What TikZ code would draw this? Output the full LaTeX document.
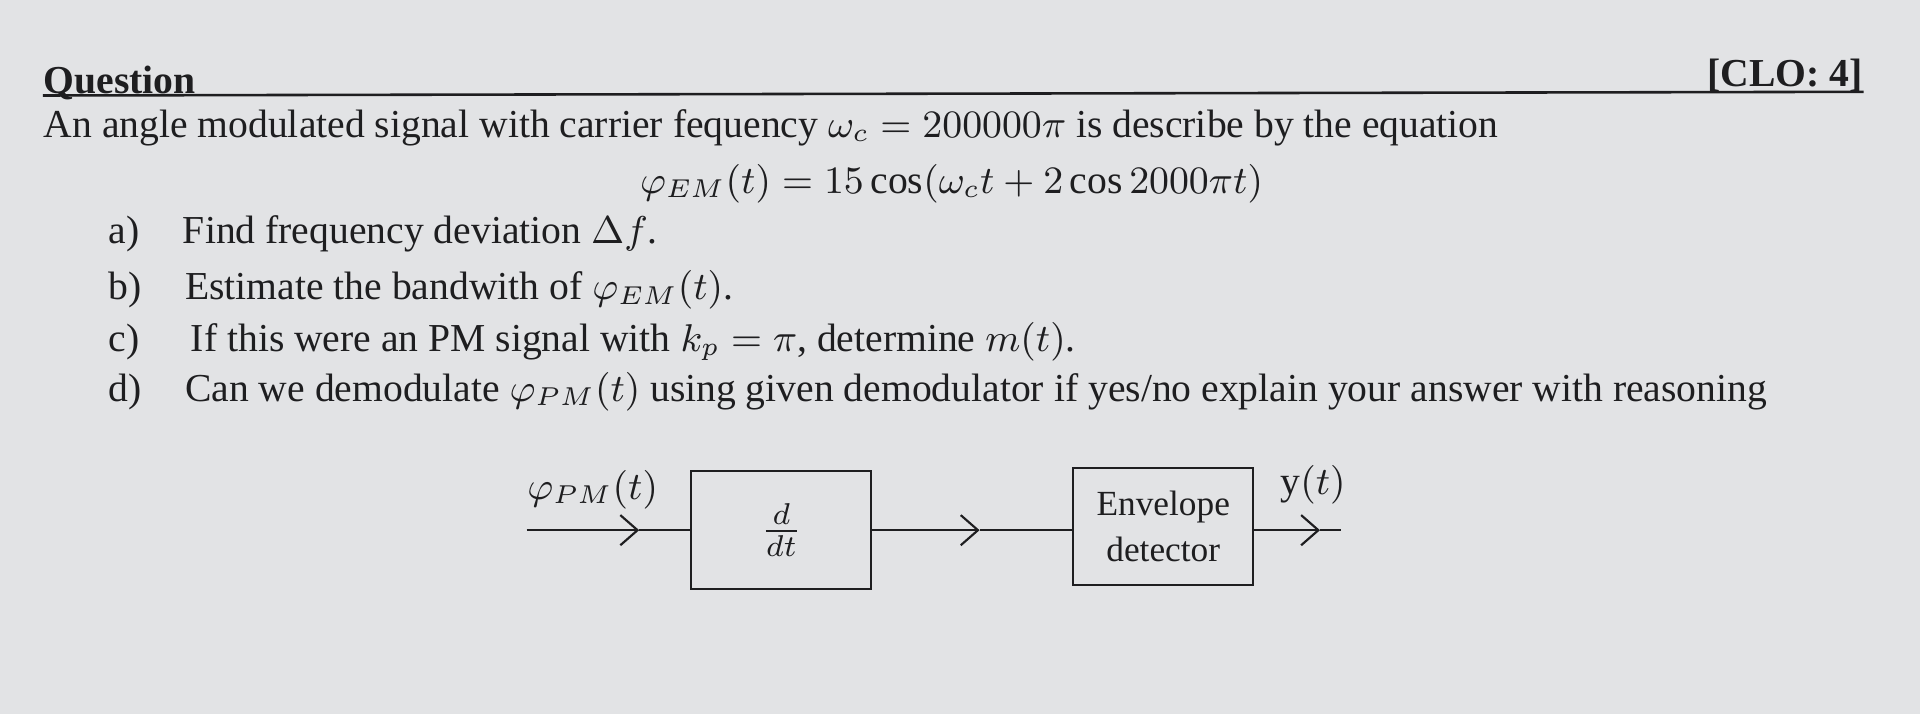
\documentclass[tikz,border=0pt]{standalone}
\usepackage{amsmath}
\usepackage{fontspec}
\setmainfont{Liberation Serif}
\usetikzlibrary{arrows.meta,calc}
\definecolor{bg}{RGB}{226,227,229}
\definecolor{ink}{RGB}{30,30,32}
\begin{document}
\begin{tikzpicture}[x=0.01cm,y=0.01cm,
  txt/.style={anchor=west,inner sep=0,text=ink,font=\fontsize{9.2}{11}\selectfont},
  blk/.style={draw=ink,line width=0.5pt,minimum width=1.47cm,minimum height=0.96cm,inner sep=0,text=ink},
  sig/.style={draw=ink,line width=0.5pt},
  midarrow/.style={draw=ink,line width=0.5pt,-{Straight Barb[length=4pt,width=7pt]}}]
\fill[bg] (0,0) rectangle (1568,-583);
\useasboundingbox (0,0) rectangle (1568,-583);
\node[txt,font=\fontsize{9.2}{11}\selectfont\bfseries] (q) at (35,-68) {Question};
\node[txt,anchor=east,font=\fontsize{9.2}{11}\selectfont\bfseries] (clo) at (1522,-62) {[CLO: 4]};
\coordinate (ul1) at (35,-78); \coordinate (ul2) at (1522,-75);
\draw[ink,line width=0.6pt] (ul1) -- (ul2);
\node[txt] (l1) at (35,-104) {An angle modulated signal with carrier fequency $\omega_c = 200000\pi$ is describe\ by the equation};
\node[txt] (eq) at (522,-150) {$\varphi_{EM}(t) = 15\cos(\omega_c t + 2\cos 2000\pi t)$};
\node[txt] (a) at (88,-191) {a)\hspace{1.1em}Find frequency deviation $\Delta f$.};
\node[txt] (b) at (88,-237) {b)\hspace{1.1em}Estimate the bandwith of $\varphi_{EM}(t)$.};
\node[txt] (c) at (88,-279) {c)\hspace{1.3em}If this were an PM signal with $k_p=\pi$, determine $m(t)$.};
\node[txt] (d) at (88,-320) {d)\hspace{1.1em}Can we demodulate $\varphi_{PM}(t)$ using given demodulator if yes/no explain your answer with reasoning};
\node[blk] (b1) at (638,-433) {\fontsize{10}{11}\selectfont$\frac{d}{dt}$};
\node[blk,align=center,font=\fontsize{8.2}{10.5}\selectfont] (b2) at (950,-430) {Envelope\\detector};
\coordinate (in) at (430,-433);
\coordinate (inm) at (522,-433);
\coordinate (m1) at (712,-433);
\coordinate (mm) at (800,-433);
\coordinate (m2) at (876,-433);
\coordinate (o1) at (1023,-433);
\coordinate (om) at (1078,-433);
\coordinate (out) at (1095,-433);
\node[txt] (lin) at (430,-400) {\fontsize{9.2}{11}\selectfont$\varphi_{PM}(t)$};
\node[txt] (lout) at (1045,-396) {y$(t)$};
\draw[midarrow] (in) -- (inm);
\draw[sig] (inm) -- (b1.west);
\draw[midarrow] (m1) -- (mm);
\draw[sig] (mm) -- (m2);
\draw[midarrow] (o1) -- (om);
\draw[sig] (om) -- (out);
\end{tikzpicture}
\end{document}
